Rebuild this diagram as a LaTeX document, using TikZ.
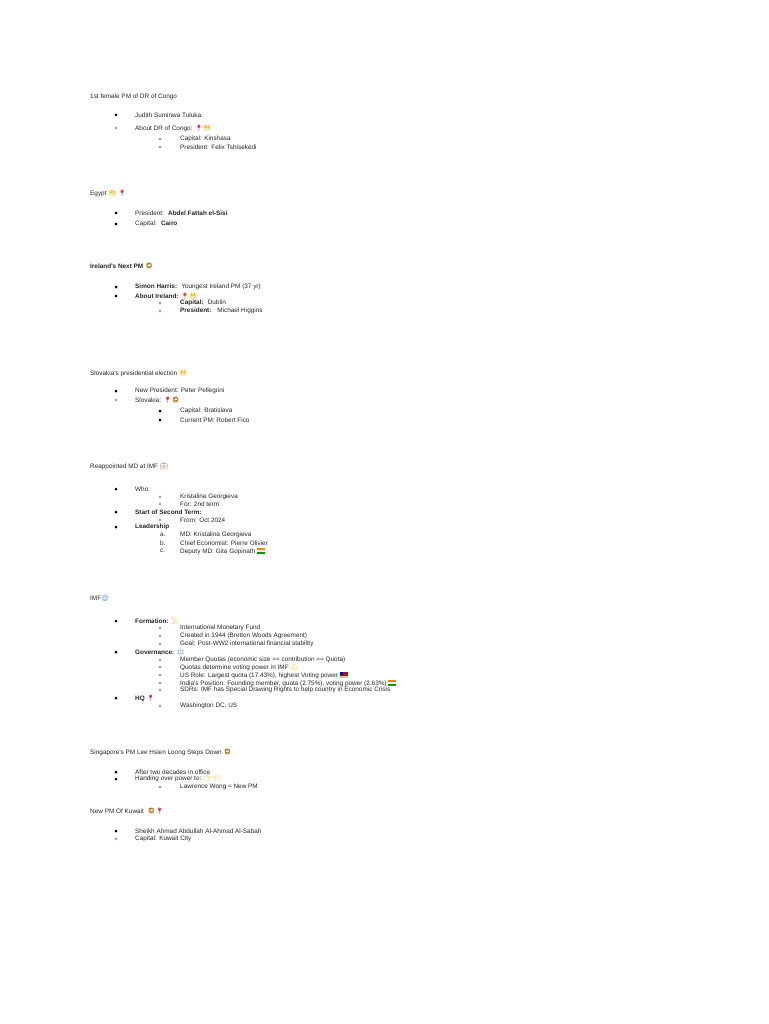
\documentclass[tikz,border=0pt]{standalone}
\usepackage{fontspec}
\setmainfont{Liberation Sans}
\newfontfamily\emo{Noto Emoji}
\definecolor{pinred}{HTML}{E0383E}
\definecolor{gold}{HTML}{F4B400}
\definecolor{face}{HTML}{B8741A}
\definecolor{brief}{HTML}{8B4A2B}
\definecolor{globe}{HTML}{3C8DDB}
\definecolor{scroll}{HTML}{E8C07A}
\definecolor{scale}{HTML}{7FA8C9}
\newcommand{\pin}{{\emo\color{pinred}📍}}
\newcommand{\crown}{{\emo\color{gold}👑}}
\newcommand{\beard}{{\emo\color{face}🧔}}
\newcommand{\brf}{{\emo\color{brief}💼}}
\newcommand{\glb}{{\emo\color{globe}🌐}}
\newcommand{\scr}{{\emo\color{scroll}📜}}
\newcommand{\scl}{{\emo\color{scale}⚖}}
\newcommand{\mus}{{\emo\color{gold}💪}}
\newcommand{\hands}{{\emo\color{gold}👉👈}}
\newcommand{\flagin}{\raisebox{-0.6pt}{\vbox{\offinterlineskip\hbox{\color{orange}\rule{8pt}{2pt}}\hbox{\color{black!8}\rule{8pt}{2pt}}\hbox{\color{green!60!black}\rule{8pt}{2pt}}}}}
\newcommand{\flagus}{\raisebox{-0.6pt}{\vbox{\offinterlineskip\hbox{\color{blue!70!black}\rule{3.5pt}{3pt}\color{red!80!black}\rule{4.5pt}{3pt}}\hbox{\color{red!80!black}\rule{8pt}{1pt}\hspace{-8pt}}\hbox{\color{red!30}\rule{8pt}{2pt}}}}}
\begin{document}
\begin{tikzpicture}[x=1pt,y=-1pt,
  txt/.style={anchor=west,inner sep=0pt,font=\fontsize{6.4}{7.5}\selectfont,text=black!85},
  fb/.style={fill=black,draw=none},
  hb/.style={draw=black!55,line width=0.35pt,fill=none}]
\useasboundingbox (0,0) rectangle (768,1024);
\fill[white] (0,0) rectangle (768,1024);
\newcommand{\T}[3]{\node[txt] (#1) at (90,#2) {#3};}
\newcommand{\FA}[3]{\fill (116,#2) circle (1.5); \node[txt] (#1) at (135,#2) {#3};}
\newcommand{\HA}[3]{\draw[hb] (116,#2) circle (1.2); \node[txt] (#1) at (135,#2) {#3};}
\newcommand{\HB}[3]{\draw[hb] (160,#2) circle (1.2); \node[txt] (#1) at (180,#2) {#3};}
\newcommand{\FB}[3]{\fill (160,#2) circle (1.5); \node[txt] (#1) at (180,#2) {#3};}
\newcommand{\LB}[4]{\node[txt] at (160,#2) {#3}; \node[txt] (#1) at (180,#2) {#4};}
% Congo
\T{t1}{97}{1st female PM of DR of Congo}
\FA{a1}{115}{Judith Suminwa Tuluka:}
\HA{a2}{128}{About DR of Congo: \pin\crown}
\HB{a3}{139}{Capital: Kinshasa}
\HB{a4}{147}{President: Felix Tshisekedi}
% Egypt
\T{t2}{193}{Egypt \crown\ \pin}
\FA{b1}{213}{President: \ \textbf{Abdel Fattah el-Sisi}}
\FA{b2}{224}{Capital: \ \textbf{Cairo}}
% Ireland
\T{t3}{266}{\textbf{Ireland's Next PM} \beard}
\FA{c1}{287}{\textbf{Simon Harris:} \ Youngest Ireland PM (37 yr)}
\FA{c2}{296}{\textbf{About Ireland:} \pin\crown}
\HB{c3}{303}{\textbf{Capital:} \ Dublin}
\HB{c4}{311}{\textbf{President:} \ \ Michael Higgins}
% Slovakia
\T{t4}{373}{Slovakia's presidential election \crown}
\FA{d1}{391}{New President: Peter Pellegrini}
\HA{d2}{400}{Slovakia: \pin\beard}
\FB{d3}{411}{Capital: Bratislava}
\FB{d4}{420}{Current PM: Robert Fico}
% IMF MD
\T{t5}{466}{Reappointed MD at IMF \brf}
\FA{e1}{489}{Who:}
\HB{e2}{497}{Kristalina Georgieva}
\HB{e3}{504}{For: 2nd term}
\FA{e4}{512}{\textbf{Start of Second Term:}}
\HB{e5}{520}{From: Oct 2024}
\FA{e6}{527}{\textbf{Leadership}}
\LB{e7}{535}{a.}{MD: Kristalina Georgieva}
\LB{e8}{543}{b.}{Chief Economist: Pierre Olivier}
\LB{e9}{551}{c.}{Deputy MD: Gita Gopinath \flagin}
% IMF
\T{t6}{598}{IMF\glb}
\FA{f1}{621}{\textbf{Formation:} \scr}
\HB{f2}{628}{International Monetary Fund}
\HB{f3}{636}{Created in 1944 (Bretton Woods Agreement)}
\HB{f4}{644}{Goal: Post-WW2 international financial stability}
\FA{f5}{652}{\textbf{Governance:} \scl}
\HB{f6}{660}{Member Quotas (economic size == contribution == Quota)}
\HB{f7}{667}{Quotas determine voting power in IMF \mus}
\HB{f8}{675}{US Role: Largest quota (17.43\%), highest Voting power \flagus}
\HB{f9}{683}{India's Position: Founding member, quota (2.75\%), voting power (2.63\%) \flagin}
\HB{f10}{690}{SDRs: IMF has Special Drawing Rights to help country in Economic Crisis}
\FA{f11}{698}{\textbf{HQ} \pin}
\HB{f12}{706}{Washington DC, US}
% Singapore
\T{t7}{752}{Singapore's PM Lee Hsien Loong Steps Down \beard}
\FA{g1}{772}{After two decades in office}
\FA{g2}{779}{Handing over power to: \hands}
\HB{g3}{787}{Lawrence Wong = New PM}
% Kuwait
\T{t8}{811}{New PM Of Kuwait \ \beard\pin}
\FA{h1}{831}{Sheikh Ahmad Abdullah Al-Ahmad Al-Sabah}
\HA{h2}{839}{Capital: Kuwait City}
\end{tikzpicture}
\end{document}
